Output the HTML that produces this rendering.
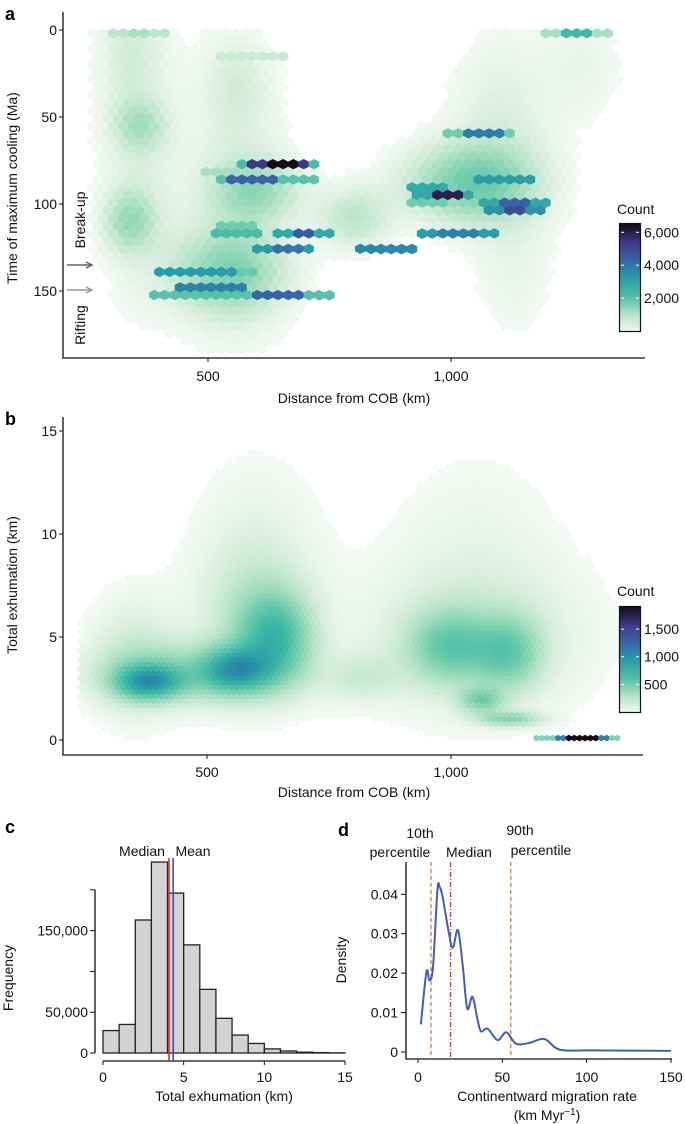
<!DOCTYPE html>
<html><head><meta charset="utf-8">
<style>
html,body{margin:0;padding:0;background:#fff;}
svg{display:block;font-family:"Liberation Sans",Arial,sans-serif;}
.t{font-size:14px;fill:#111;}
.tk{font-size:14px;fill:#111;}
.lt{font-size:18px;font-weight:bold;fill:#000;}
</style></head>
<body>
<svg id="fig" width="685" height="1124" viewBox="0 0 685 1124">
<defs>
<linearGradient id="cb" x1="0" y1="1" x2="0" y2="0">
<stop offset="0" stop-color="#eef7ee"/><stop offset="0.15" stop-color="#b9e4c9"/><stop offset="0.32" stop-color="#4fc0a6"/><stop offset="0.5" stop-color="#2a9aa8"/><stop offset="0.66" stop-color="#3765a8"/><stop offset="0.82" stop-color="#3f3a8a"/><stop offset="1" stop-color="#150a14"/>
</linearGradient>
</defs>
<g id="pa"></g>
<g id="pb"></g>
<g id="pc"></g>
<g id="pd"></g>
</svg>
<script>
// ---------- Panel a data ----------
const aStrips = [ // [Ma, km0, km1, count]
[2,284,420,700],[2,330,380,900],[2,1185,1340,900],[2,1225,1300,2100],
[16,512,665,550],
[59,990,1130,1500],[59,1030,1110,3400],
[77,560,730,2000],[77,590,700,4800],[77,620,690,6200],
[81,480,560,900],
[85,515,730,1800],[85,545,650,3800],
[89,900,1000,2500],
[93,920,1050,2500],[93,960,1020,5500],
[85,1050,1180,2800],
[98,1050,1215,2500],[98,1090,1170,3800],
[102,1070,1200,3000],[102,1120,1150,4300],
[98,900,990,1500],
[115,940,1092,2800],[115,970,1050,3300],
[119,640,760,2500],[119,670,720,4000],
[124,600,720,2800],[124,640,700,3500],[124,810,935,3200],
[111,510,610,1500],[115,500,615,2000],
[137,390,600,1600],[141,400,560,2800],[146,440,580,3300],
[154,375,770,1800],[154,590,700,3800]
];
const aClusters = [ // [km, Ma, sdKm, sdMa, peak]
[360,55,35,10,700],[340,110,35,12,900],[360,80,60,55,300],[560,100,70,55,380],
[560,30,45,18,300],[540,140,80,16,1100],[1040,88,90,15,1400],[1100,55,70,35,350],
[1130,130,60,35,200],[1270,20,60,25,200],[800,108,50,12,700],[600,92,60,12,900],[340,10,45,25,350]
];
const aYTicks = [0,50,100,150];
const aXTicks = [500,1000];
const aXTickLabels = ["500","1,000"];
const aCbTicks = [2000,4000,6000];
const aCbLabels = ["2,000","4,000","6,000"];
// ---------- Panel b data ----------
const bStrips = [[0,1170,1350,400],[0,1210,1320,1000],[0,1240,1300,1900]];
const bClusters = [
[380,2.8,45,0.55,650],[560,3.4,45,0.7,550],[640,5,50,1.4,500],[480,3.2,130,1.0,330],
[600,6,80,2.5,200],[350,4,60,2,150],[600,10,90,3,50],[1000,4.5,60,1.2,380],
[1120,4.2,45,1.2,360],[1050,5,150,2.5,160],[1050,10,120,3,45],[1062,1.9,30,0.4,350],
[1120,1.0,45,0.25,330],[820,3,50,0.8,130]
];
const bYTicks = [0,5,10,15];
const bCbTicks = [500,1000,1500];
const bCbLabels = ["500","1,000","1,500"];
// ---------- Panel c data ----------
const cBins = [0,1,2,3,4,5,6,7,8,9,10,11,12,13,14];
const cCounts = [27500,35000,163000,234000,196000,132500,78000,42500,22000,11700,5000,2500,1000,500,200];
const cMedian = 4.09, cMean = 4.35;
const cYTicks = [0,50000,150000];
const cYTickLabels = ["0","50,000","150,000"];
const cYMinor = [100000,200000];
const cXTicks = [0,5,10,15];
// ---------- Panel d data ----------
const dRate = [1.7,5.0,6.8,8.9,11.5,12.8,14.6,18.0,20.6,23.7,26.6,29.2,32.3,35.4,37.4,41.3,47.2,52.4,58.1,65.9,75,84,102,150];
const dDens = [0.007,0.0203,0.0182,0.0216,0.041,0.0419,0.0393,0.0309,0.0264,0.0309,0.0216,0.011,0.014,0.008,0.0052,0.0059,0.003,0.005,0.0021,0.0023,0.0033,0.0006,0.0004,0.0003];
const dP10 = 7.7, dMed = 19.3, dP90 = 55;
const dYTicks = [0,0.01,0.02,0.03,0.04];
const dYTickLabels = ["0","0.01","0.02","0.03","0.04"];
const dXTicks = [0,50,100,150];

const NS="http://www.w3.org/2000/svg";
function mk(tag,attrs,parent,txt){const e=document.createElementNS(NS,tag);for(const k in attrs)e.setAttribute(k,attrs[k]);if(txt!==undefined)e.textContent=txt;parent.appendChild(e);return e;}
const stops=[[0,[250,253,250]],[0.02,[240,248,241]],[0.06,[218,239,224]],[0.14,[172,224,196]],[0.24,[110,204,172]],[0.35,[58,182,166]],[0.47,[40,150,168]],[0.6,[55,101,168]],[0.75,[63,58,138]],[0.88,[45,27,76]],[1,[21,10,20]]];
function col(t){t=Math.max(0,Math.min(1,t));for(let i=1;i<stops.length;i++){if(t<=stops[i][0]){const a=stops[i-1],b=stops[i];const f=(t-a[0])/(b[0]-a[0]);const c=a[1].map((v,j)=>Math.round(v+(b[1][j]-v)*f));return `rgb(${c[0]},${c[1]},${c[2]})`;}}return 'rgb(21,10,20)';}
function hexPts(cx,cy,w,h){return [[0,-h/2],[w/2,-h/4],[w/2,h/4],[0,h/2],[-w/2,h/4],[-w/2,-h/4]].map(p=>(cx+p[0]).toFixed(1)+','+(cy+p[1]).toFixed(1)).join(' ');}

function hexPanel(g,o){
  const rowH=o.rowH, w=o.hw, h=rowH/0.75;
  const grid=mk('g',{},g);
  
  
  let r=0;
  for(let py=o.gy0;py<=o.gy1;py+=rowH,r++){
    const off=(r%2)*w/2;
    for(let px=o.gx0+off;px<=o.gx1;px+=w){
      const km=o.kx0+(px-o.x0)/o.kxs, yv=o.ky0+(py-o.y0)/o.kys;
      let v=0;
      for(const c of o.clusters){const dx=(km-c[0])/c[2],dy=(yv-c[1])/c[3];v+=c[4]*Math.exp(-0.5*(dx*dx+dy*dy));}
      const half=Math.abs(rowH/o.kys)/2;
      for(const s of o.strips){if(Math.abs(yv-s[0])<=half&&km>=s[1]&&km<=s[2])v=Math.max(v,s[3]);}
      if(v<o.thr)continue;
      const hx=mk('polygon',{points:hexPts(px,py,w+0.4,h+0.4),fill:col(v/o.max)},grid);
      
      
    }
  }
}
function axisFrame(g,x0,yTop,yBot,xR){
  mk('path',{d:`M${x0},${yTop}V${yBot}H${xR}`,fill:'none',stroke:'#111','stroke-width':1.3},g);
}
// ---------- Panel a ----------
(function(){
  const g=document.getElementById('pa');
  const kxs=243/500, x0=208, kx0=500, y0=30, ky0=0, kys=1.74;
  const X=v=>x0+(v-kx0)*kxs, Y=v=>y0+(v-ky0)*kys;
  hexPanel(g,{x0,kx0,kxs,y0,ky0,kys,rowH:7.7,hw:10.3,gx0:X(220),gx1:X(1380),gy0:Y(2),gy1:Y(185),strips:aStrips,clusters:aClusters,max:6300,thr:90});
  const ax=mk('g',{},g);
  axisFrame(ax,63,12,358,645);
  aYTicks.forEach(t=>{mk('line',{x1:59,x2:63,y1:Y(t),y2:Y(t),stroke:'#111'},ax);mk('text',{x:57,y:Y(t)+5,'text-anchor':'end',class:'tk'},ax,String(t));});
  aXTicks.forEach((t,i)=>{mk('line',{x1:X(t),x2:X(t),y1:358,y2:362,stroke:'#111'},ax);mk('text',{x:X(t),y:381,'text-anchor':'middle',class:'tk'},ax,aXTickLabels[i]);});
  const xt=mk('text',{x:354,y:403,'text-anchor':'middle',class:'t'},g,'Distance from COB (km)');
  const yt=mk('text',{x:0,y:0,transform:'translate(17,188) rotate(-90)','text-anchor':'middle',class:'t'},g,'Time of maximum cooling (Ma)');
  mk('text',{x:5,y:20,class:'lt'},g,'a');
  const bu=mk('text',{x:0,y:0,transform:'translate(85,220) rotate(-90)','text-anchor':'middle',class:'t'},g,'Break-up');
  const rf=mk('text',{x:0,y:0,transform:'translate(85,325) rotate(-90)','text-anchor':'middle',class:'t'},g,'Rifting');
  mk('path',{d:'M67,265H91M86,262L92,265L86,268',fill:'none',stroke:'#666','stroke-width':1.5},g);
  mk('path',{d:'M67,290H91M86,287L92,290L86,293',fill:'none',stroke:'#999','stroke-width':1.5},g);
  const cb=mk('g',{},g);
  mk('text',{x:617,y:214,class:'t'},cb,'Count');
  mk('rect',{x:619.5,y:223.5,width:21,height:108,fill:'url(#cb)',stroke:'#111','stroke-width':1.2},cb);
  const cy=v=>331-(v/6200)*102;
  aCbTicks.forEach((t,i)=>{mk('line',{x1:621,x2:624,y1:cy(t),y2:cy(t),stroke:'#fff'},cb);mk('line',{x1:636,x2:639,y1:cy(t),y2:cy(t),stroke:'#fff'},cb);mk('text',{x:644,y:cy(t)+5,class:'tk'},cb,aCbLabels[i]);});
})();
// ---------- Panel b ----------
(function(){
  const g=document.getElementById('pb');
  const kxs=244/500, x0=207, kx0=500, y0=740, ky0=0, kys=-20.6;
  const X=v=>x0+(v-kx0)*kxs, Y=v=>y0+(v-ky0)*kys;
  hexPanel(g,{x0,kx0,kxs,y0,ky0,kys,rowH:4.6,hw:5.4,gx0:X(240),gx1:X(1380),gy0:Y(15.5),gy1:Y(-0.05),strips:bStrips,clusters:bClusters,max:1900,thr:22});
  const ax=mk('g',{},g);
  axisFrame(ax,63,417,755,643);
  bYTicks.forEach(t=>{mk('line',{x1:59,x2:63,y1:Y(t),y2:Y(t),stroke:'#111'},ax);mk('text',{x:57,y:Y(t)+5,'text-anchor':'end',class:'tk'},ax,String(t));});
  aXTicks.forEach((t,i)=>{mk('line',{x1:X(t),x2:X(t),y1:755,y2:759,stroke:'#111'},ax);mk('text',{x:X(t),y:777,'text-anchor':'middle',class:'tk'},ax,aXTickLabels[i]);});
  const xt=mk('text',{x:354,y:797,'text-anchor':'middle',class:'t'},g,'Distance from COB (km)');
  const yt=mk('text',{x:0,y:0,transform:'translate(17,585) rotate(-90)','text-anchor':'middle',class:'t'},g,'Total exhumation (km)');
  mk('text',{x:5,y:425,class:'lt'},g,'b');
  const cb=mk('g',{},g);
  mk('text',{x:617,y:596,class:'t'},cb,'Count');
  mk('rect',{x:619.5,y:606.5,width:21,height:106,fill:'url(#cb)',stroke:'#111','stroke-width':1.2},cb);
  const cy=v=>712-(v/1900)*105;
  bCbTicks.forEach((t,i)=>{mk('line',{x1:621,x2:624,y1:cy(t),y2:cy(t),stroke:'#fff'},cb);mk('line',{x1:636,x2:639,y1:cy(t),y2:cy(t),stroke:'#fff'},cb);mk('text',{x:644,y:cy(t)+5,class:'tk'},cb,bCbLabels[i]);});
})();
// ---------- Panel c ----------
(function(){
  const g=document.getElementById('pc');
  const X=v=>103+v*(242/15), Y=v=>1053-v*(40.8/50000);
  cBins.forEach((b,i)=>{
    const r=mk('rect',{x:X(b),y:Y(cCounts[i]),width:X(b+1)-X(b),height:Y(0)-Y(cCounts[i]),fill:'#d3d3d3',stroke:'#222','stroke-width':1.3},g);
    
    
  });
  mk('path',{d:`M95,${Y(200000)}V${Y(0)}`,stroke:'#111','stroke-width':1.3},g);
  cYTicks.forEach((t,i)=>{mk('line',{x1:90,x2:95,y1:Y(t),y2:Y(t),stroke:'#111'},g);mk('text',{x:88,y:Y(t)+5,'text-anchor':'end',class:'tk'},g,cYTickLabels[i]);});
  cYMinor.forEach(t=>mk('line',{x1:90,x2:95,y1:Y(t),y2:Y(t),stroke:'#111'},g));
  mk('path',{d:`M${X(0)},1061H${X(15)}`,stroke:'#111','stroke-width':1.3},g);
  cXTicks.forEach(t=>{mk('line',{x1:X(t),x2:X(t),y1:1061,y2:1065,stroke:'#111'},g);mk('text',{x:X(t),y:1082,'text-anchor':'middle',class:'tk'},g,String(t));});
  const md=mk('line',{x1:X(cMedian),x2:X(cMedian),y1:858,y2:1061,stroke:'#e8262a','stroke-width':1.6},g);
  const mn=mk('line',{x1:X(cMean),x2:X(cMean),y1:858,y2:1061,stroke:'#3b55a8','stroke-width':1.6},g);
  mk('text',{x:142,y:856,'text-anchor':'middle',class:'t'},g,'Median');
  mk('text',{x:193,y:856,'text-anchor':'middle',class:'t'},g,'Mean');
  mk('text',{x:224,y:1101,'text-anchor':'middle',class:'t'},g,'Total exhumation (km)');
  mk('text',{x:0,y:0,transform:'translate(13,978) rotate(-90)','text-anchor':'middle',class:'t'},g,'Frequency');
  mk('text',{x:5,y:833,class:'lt'},g,'c');
})();
// ---------- Panel d ----------
(function(){
  const g=document.getElementById('pd');
  const X=v=>418+v*(253/150), Y=v=>1052-v*3943;
  mk('path',{d:`M406,862V1059H672`,fill:'none',stroke:'#111','stroke-width':1.3},g);
  dYTicks.forEach((t,i)=>{mk('line',{x1:401,x2:406,y1:Y(t),y2:Y(t),stroke:'#111'},g);mk('text',{x:398,y:Y(t)+5,'text-anchor':'end',class:'tk'},g,dYTickLabels[i]);});
  dXTicks.forEach(t=>{mk('line',{x1:X(t),x2:X(t),y1:1059,y2:1063,stroke:'#111'},g);mk('text',{x:X(t),y:1082,'text-anchor':'middle',class:'tk'},g,String(t));});
  [[dP10,'4,3','p10-line'],[dMed,'5,2,1,2','median-rate-line'],[dP90,'4,3','p90-line']].forEach(p=>{
    const l=mk('line',{x1:X(p[0]),x2:X(p[0]),y1:862,y2:1059,stroke:p[2]==='median-rate-line'?'#e8262a':'#f26b3a','stroke-width':1.3,'stroke-dasharray':p[1]},g);
    
    
  });
  const P=dRate.map((r,i)=>[X(r),Y(dDens[i])]);
  let d=`M${P[0][0]},${P[0][1]}`;
  for(let i=0;i<P.length-1;i++){const p0=P[Math.max(0,i-1)],p1=P[i],p2=P[i+1],p3=P[Math.min(P.length-1,i+2)];
    d+=` C${p1[0]+(p2[0]-p0[0])/6},${p1[1]+(p2[1]-p0[1])/6} ${p2[0]-(p3[0]-p1[0])/6},${p2[1]-(p3[1]-p1[1])/6} ${p2[0]},${p2[1]}`;}
  const c=mk('path',{d,fill:'none',stroke:'#3f5fb5','stroke-width':2},g);
  
  
  mk('text',{x:420,y:838,'text-anchor':'middle',class:'t'},g,'10th');
  mk('text',{x:400,y:857,'text-anchor':'middle',class:'t'},g,'percentile');
  mk('text',{x:469,y:857,'text-anchor':'middle',class:'t'},g,'Median');
  mk('text',{x:520,y:835,'text-anchor':'middle',class:'t'},g,'90th');
  mk('text',{x:541,y:855,'text-anchor':'middle',class:'t'},g,'percentile');
  mk('text',{x:547,y:1101,'text-anchor':'middle',class:'t'},g,'Continentward migration rate');
  const u=mk('text',{x:547,y:1120,'text-anchor':'middle',class:'t'},g,'(km Myr');
  mk('tspan',{'baseline-shift':'super','font-size':'10'},u,'−1');
  mk('tspan',{},u,')');
  mk('text',{x:0,y:0,transform:'translate(346,960) rotate(-90)','text-anchor':'middle',class:'t'},g,'Density');
  mk('text',{x:338,y:836,class:'lt'},g,'d');
})();
</script>
</body></html>
